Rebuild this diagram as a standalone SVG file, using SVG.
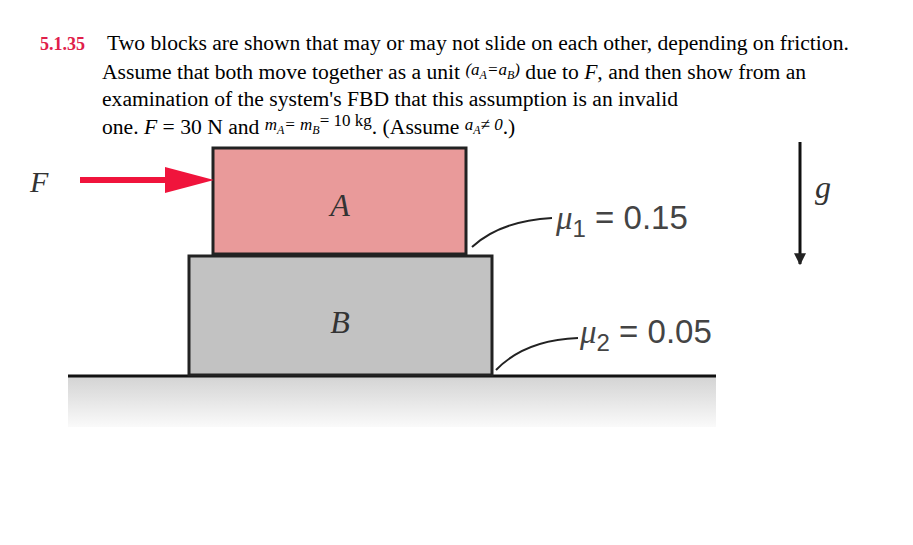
<svg xmlns="http://www.w3.org/2000/svg" width="913" height="545" viewBox="0 0 913 545">
<defs>
<style>
.t{font-family:"Liberation Serif",serif;font-size:21.6px;fill:#000}
.m{font-family:"Liberation Serif",serif;font-style:italic}
.lbl{font-family:"Liberation Sans",sans-serif;font-size:33px;fill:#444}
.blk{stroke:#222;stroke-width:3}
</style>
<linearGradient id="gr" x1="0" y1="0" x2="0" y2="1"><stop offset="0" stop-color="#d4d4d4"/><stop offset="1" stop-color="#fafafa"/></linearGradient>
<marker id="ah" viewBox="0 0 10 10" refX="9" refY="5" markerWidth="4" markerHeight="5" orient="auto"><path d="M0,0L10,5L0,10z" fill="#222"/></marker>
</defs>
<rect width="913" height="545" fill="#fff"/>
<text class="t" x="40" y="50"><tspan fill="#e0204a" font-weight="bold" font-size="18">5.1.35</tspan><tspan x="107">Two blocks are shown that may or may not slide on each other, depending on friction.</tspan></text>
<text class="t" x="102" y="79">Assume that both move together as a unit <tspan class="m" font-size="17" dy="-4">(a<tspan font-size="12" dy="4">A</tspan><tspan dy="-4">=a</tspan><tspan font-size="12" dy="4">B</tspan><tspan dy="-4">)</tspan></tspan><tspan dy="4"> due to </tspan><tspan class="m">F</tspan>, and then show from an</text>
<text class="t" x="102" y="106">examination of the system's FBD that this assumption is an invalid</text>
<text class="t" x="102" y="134">one. <tspan class="m">F</tspan> = 30 N and <tspan class="m" font-size="17" dy="-4">m<tspan font-size="12" dy="4">A</tspan><tspan dy="-4">= m</tspan><tspan font-size="12" dy="4">B</tspan></tspan><tspan font-size="17" dy="-8">= 10 kg</tspan><tspan dy="8">. (Assume </tspan><tspan class="m" font-size="17" dy="-4">a<tspan font-size="12" dy="4">A</tspan><tspan dy="-4">≠ 0</tspan></tspan><tspan dy="4">.)</tspan></text>
<g id="ground"><rect x="68" y="377" width="648" height="50" fill="url(#gr)"/><line x1="68" y1="376" x2="716" y2="376" stroke="#111" stroke-width="3"/></g>
<g id="blockB"><rect class="blk" x="189" y="256" width="303" height="119" fill="#c2c2c2"/><text class="m" x="340" y="333" font-size="32" text-anchor="middle" fill="#333">B</text></g>
<g id="blockA"><rect class="blk" x="213" y="148" width="253" height="106" fill="#e99a9a"/><text class="m" x="340" y="216" font-size="32" text-anchor="middle" fill="#333">A</text></g>
<g id="connectors">
<line x1="80" y1="180" x2="200" y2="180" stroke="#f0143c" stroke-width="6"/>
<path d="M165,167L214,180L165,193z" fill="#f0143c"/>
<line x1="800" y1="142" x2="800" y2="264" stroke="#111" stroke-width="3" marker-end="url(#ah)"/>
<path d="M472,247Q500,221 552,218" fill="none" stroke="#222" stroke-width="2"/>
<path d="M496,370Q525,340 578,338" fill="none" stroke="#222" stroke-width="2"/>
</g>
<g id="labels">
<text class="m" x="30" y="192" font-size="30" fill="#333">F</text>
<text class="m" x="815" y="198" font-size="32" fill="#333">g</text>
<text class="lbl" x="556" y="229"><tspan class="m">μ</tspan><tspan font-size="24" dy="8">1</tspan><tspan dy="-8"> = 0.15</tspan></text>
<text class="lbl" x="580" y="343"><tspan class="m">μ</tspan><tspan font-size="24" dy="8">2</tspan><tspan dy="-8"> = 0.05</tspan></text>
</g>
</svg>
